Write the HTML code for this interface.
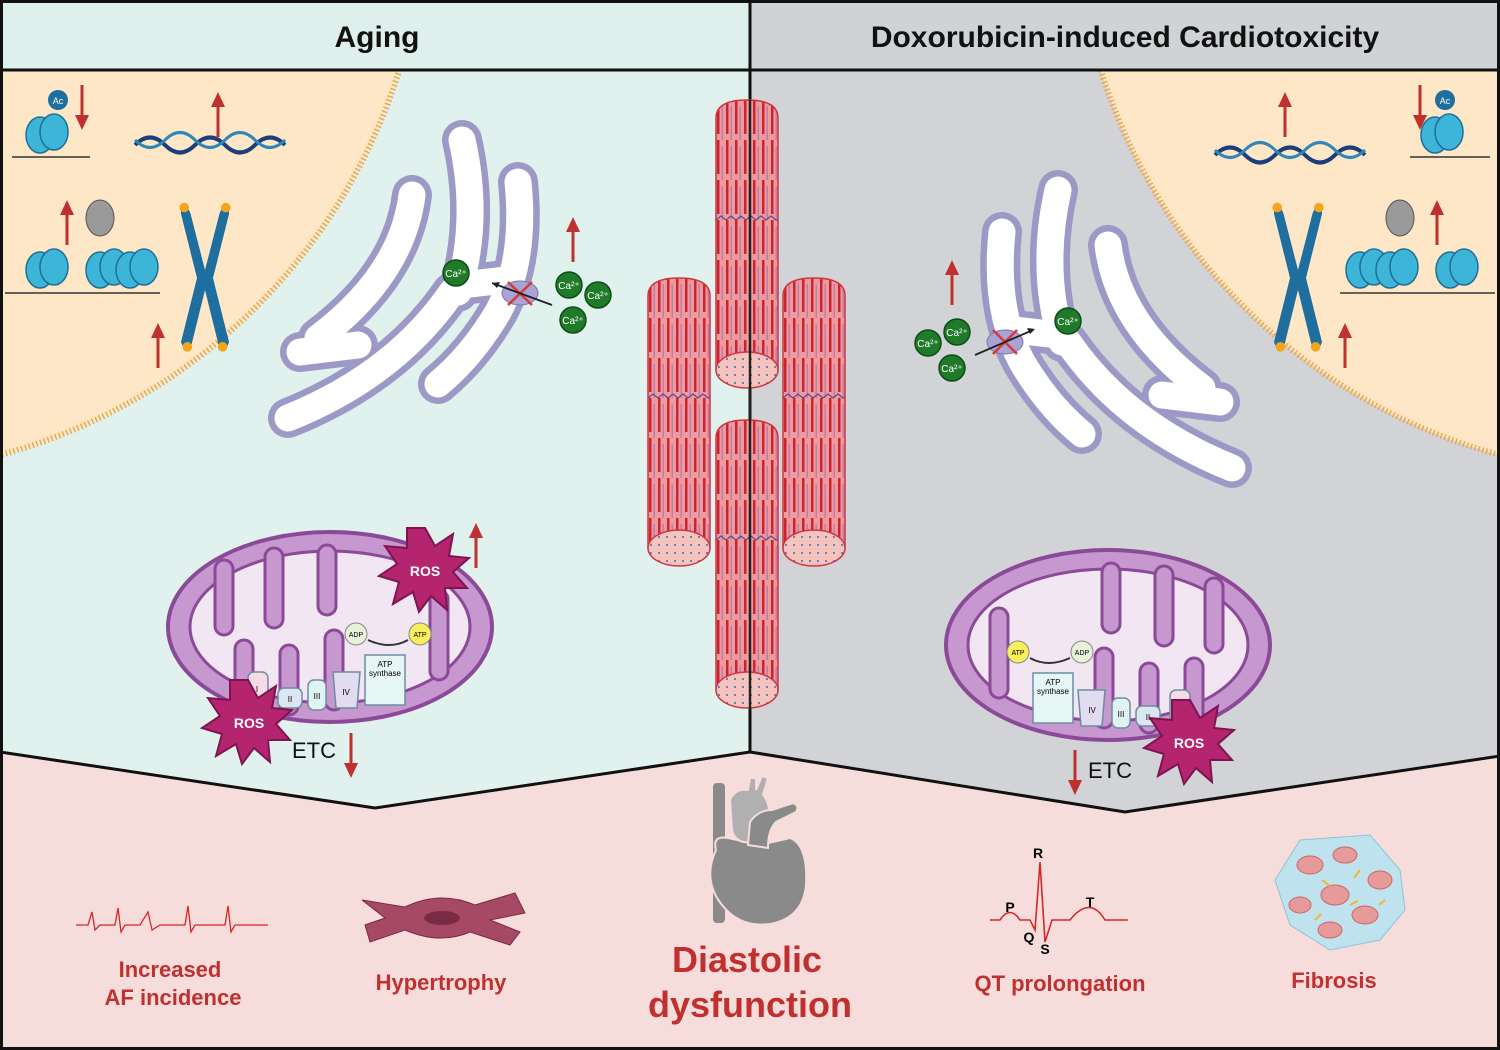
<!DOCTYPE html>
<html><head><meta charset="utf-8"><style>
body{margin:0;width:1500px;height:1050px;overflow:hidden;background:#fff}
svg{display:block}
text{font-family:"Liberation Sans",sans-serif}
</style></head><body>
<svg width="1500" height="1050" viewBox="0 0 1500 1050" xmlns="http://www.w3.org/2000/svg">
<defs>
<pattern id="st" width="9" height="40" patternUnits="userSpaceOnUse">
<rect width="9" height="40" fill="#f19a9e"/>
<rect x="1" width="2.5" height="34" fill="#c9252f"/>
<rect x="5.5" y="6" width="1.5" height="34" fill="#b77fae"/>
</pattern>
<pattern id="dots" width="8" height="8" patternUnits="userSpaceOnUse">
<rect width="8" height="8" fill="#f6c4bf"/><circle cx="3" cy="3" r="1" fill="#3a6fb0"/>
</pattern>
<g id="fib">
<path d="M0 18 Q0 0 31 0 Q62 0 62 18 L62 270 L0 270 Z" fill="url(#st)" stroke="#d0353f" stroke-width="1.5"/>
<path d="M0 120 l5 -4 5 4 5 -4 5 4 5 -4 5 4 5 -4 5 4 5 -4 5 4 5 -4 5 4 2 0" fill="none" stroke="#5b4a90" stroke-width="1.2"/>
<ellipse cx="31" cy="270" rx="31" ry="18" fill="url(#dots)" stroke="#d0353f" stroke-width="1.5"/>
</g>
<g id="er">
<g fill="none" stroke-linecap="round" stroke-linejoin="round">
<g stroke="#9c99c6" stroke-width="40">
<path d="M288 418 Q395 375 452 292"/>
<path d="M462 140 Q480 220 458 292"/>
<path d="M412 195 Q402 275 318 338"/>
<path d="M300 352 L358 345"/>
<path d="M518 182 Q526 260 498 312 Q472 356 438 384"/>
<path d="M462 285 L505 280"/>
</g>
<g stroke="#fff" stroke-width="27">
<path d="M288 418 Q395 375 452 292"/>
<path d="M462 140 Q480 220 458 292"/>
<path d="M412 195 Q402 275 318 338"/>
<path d="M300 352 L358 345"/>
<path d="M518 182 Q526 260 498 312 Q472 356 438 384"/>
<path d="M462 285 L505 280"/>
</g>
</g>
</g>
<g id="mito">
<ellipse cx="330" cy="627" rx="162" ry="95" fill="#c797cf" stroke="#8b4a98" stroke-width="4"/>
<ellipse cx="330" cy="627" rx="140" ry="76" fill="#f2e6f3" stroke="#8b4a98" stroke-width="3"/>
<g fill="#c797cf" stroke="#8b4a98" stroke-width="3">
<rect x="215" y="560" width="18" height="75" rx="9"/>
<rect x="265" y="548" width="18" height="80" rx="9"/>
<rect x="318" y="545" width="18" height="70" rx="9"/>
<rect x="235" y="640" width="18" height="70" rx="9"/>
<rect x="280" y="645" width="18" height="70" rx="9"/>
<rect x="325" y="630" width="18" height="80" rx="9"/>
<rect x="430" y="590" width="18" height="90" rx="9"/>
</g>
<g stroke="#6b8ea0" stroke-width="1.5">
<rect x="248" y="672" width="20" height="36" rx="6" fill="#f7dbe4"/>
<rect x="278" y="688" width="24" height="20" rx="6" fill="#dbe6f0"/>
<rect x="308" y="680" width="18" height="30" rx="6" fill="#e0f3f3"/>
<path d="M333 672 L360 672 L357 708 L336 708 Z" fill="#e1dcef"/>
<path d="M365 655 L405 655 L405 705 L365 705 Z" fill="#e6f6f4"/>
</g>
<circle cx="356" cy="634" r="11" fill="#e8f2d8" stroke="#888"/>
<circle cx="420" cy="634" r="11" fill="#f8f05a" stroke="#888"/>
<path d="M368 640 Q390 650 408 640" fill="none" stroke="#333" stroke-width="2"/>
</g>
<path id="ros" d="M0 -40 L10 -22 28 -34 24 -12 44 -10 28 4 42 20 20 20 22 42 6 28 -6 44 -12 24 -32 36 -26 14 -46 8 -28 -4 -40 -22 -18 -20 -18 -40 Z" fill="#b5246f" stroke="#7d1550" stroke-width="2"/>
<g id="ca"><circle r="13" fill="#1f7a2a" stroke="#0d4d15" stroke-width="1.5"/><text y="4" text-anchor="middle" font-size="10" fill="#fff">Ca²⁺</text></g>
<g id="up"><line x1="0" y1="0" x2="0" y2="-35" stroke="#c0302f" stroke-width="3"/><path d="M-7 -30 L0 -45 L7 -30Z" fill="#c0302f"/></g>
<g id="chr" fill="#1e6e9f">
<path d="M-30 -90 Q-22 -92 -18 -80 L0 -10 L18 -80 Q22 -92 30 -90 L30 -80 L10 0 L30 80 Q26 92 18 88 L0 15 L-18 88 Q-26 92 -30 80 L-10 0 L-30 -80Z"/>
<circle cx="-26" cy="-88" r="6" fill="#f3a51b"/><circle cx="26" cy="-88" r="6" fill="#f3a51b"/>
<circle cx="-22" cy="86" r="6" fill="#f3a51b"/><circle cx="22" cy="86" r="6" fill="#f3a51b"/>
</g>
<g id="nuc" fill="#3cb5d8" stroke="#1f6f96" stroke-width="1.5">
<ellipse cx="0" cy="0" rx="14" ry="18"/><ellipse cx="14" cy="-3" rx="14" ry="18"/>
</g>
</defs>

<rect x="0" y="0" width="750" height="1050" fill="#e0f1ee"/>
<rect x="750" y="0" width="750" height="1050" fill="#d1d3d6"/>
<circle cx="-150" cy="-100" r="575" fill="#fde7c6" stroke="#f3a541" stroke-width="6" stroke-dasharray="1.5 2.5"/>
<circle cx="1650" cy="-100" r="575" fill="#fde7c6" stroke="#f3a541" stroke-width="6" stroke-dasharray="1.5 2.5"/>
<rect x="0" y="0" width="750" height="70" fill="#dff0ec"/>
<rect x="750" y="0" width="750" height="70" fill="#d0d3d6"/>
<line x1="0" y1="70" x2="1500" y2="70" stroke="#111" stroke-width="3"/>
<line x1="750" y1="0" x2="750" y2="755" stroke="#111" stroke-width="3"/>
<text x="377" y="47" text-anchor="middle" font-size="30" font-weight="bold" fill="#111">Aging</text>
<text x="1125" y="47" text-anchor="middle" font-size="30" font-weight="bold" fill="#111">Doxorubicin-induced Cardiotoxicity</text>

<path d="M0 752 L375 808 L750 752 L1125 812 L1500 756 L1500 1050 L0 1050Z" fill="#f7dcdc" stroke="#111" stroke-width="3"/>

<g transform="translate(40,135)"><use href="#nuc"/></g>
<line x1="12" y1="157" x2="90" y2="157" stroke="#333" stroke-width="1.5"/>
<circle cx="58" cy="100" r="10" fill="#1e6e9f"/><text x="58" y="104" font-size="9" text-anchor="middle" fill="#fff">Ac</text>
<g transform="translate(82,85) rotate(180)"><use href="#up"/></g>
<path d="M135 145 q15 -15 30 0 t30 0 t30 0 t30 0 t30 0" fill="none" stroke="#1d3e7a" stroke-width="4"/>
<path d="M135 140 q15 15 30 0 t30 0 t30 0 t30 0 t30 0" fill="none" stroke="#2f86b8" stroke-width="3"/>
<use href="#up" transform="translate(218,137)"/>
<g transform="translate(40,270)"><use href="#nuc"/></g>
<g transform="translate(100,270)"><use href="#nuc"/></g>
<g transform="translate(130,270)"><use href="#nuc"/></g>
<ellipse cx="100" cy="218" rx="14" ry="18" fill="#9a9a9a" stroke="#555"/>
<path d="M5 293 L160 293" stroke="#333" stroke-width="1.5" fill="none"/>
<use href="#up" transform="translate(67,245)"/>
<use href="#chr" transform="translate(205,278) scale(0.8)"/>
<use href="#up" transform="translate(158,368)"/>
<g transform="translate(1435,135)"><use href="#nuc"/></g>
<line x1="1410" y1="157" x2="1490" y2="157" stroke="#333" stroke-width="1.5"/>
<circle cx="1445" cy="100" r="10" fill="#1e6e9f"/><text x="1445" y="104" font-size="9" text-anchor="middle" fill="#fff">Ac</text>
<g transform="translate(1420,85) rotate(180)"><use href="#up"/></g>
<path d="M1215 155 q15 -15 30 0 t30 0 t30 0 t30 0 t30 0" fill="none" stroke="#1d3e7a" stroke-width="4"/>
<path d="M1215 150 q15 15 30 0 t30 0 t30 0 t30 0 t30 0" fill="none" stroke="#2f86b8" stroke-width="3"/>
<use href="#up" transform="translate(1285,137)"/>
<g transform="translate(1360,270)"><use href="#nuc"/></g>
<g transform="translate(1390,270)"><use href="#nuc"/></g>
<g transform="translate(1450,270)"><use href="#nuc"/></g>
<ellipse cx="1400" cy="218" rx="14" ry="18" fill="#9a9a9a" stroke="#555"/>
<path d="M1340 293 L1495 293" stroke="#333" stroke-width="1.5"/>
<use href="#up" transform="translate(1437,245)"/>
<use href="#chr" transform="translate(1298,278) scale(0.8)"/>
<use href="#up" transform="translate(1345,368)"/>

<use href="#er"/>
<use href="#er" transform="translate(1520,50) scale(-1,1)"/>
<ellipse cx="520" cy="293" rx="18" ry="12" fill="#a9a3d6" stroke="#7a74b0"/>
<path d="M508 282 L532 305 M532 282 L508 305" stroke="#d83a3a" stroke-width="2.5"/>
<path d="M552 305 L492 283" stroke="#222" stroke-width="1.8"/><path d="M492 283 l8 -1 -3 6z" fill="#222"/>
<use href="#ca" transform="translate(456,273)"/>
<use href="#ca" transform="translate(569,285)"/>
<use href="#ca" transform="translate(598,295)"/>
<use href="#ca" transform="translate(573,320)"/>
<use href="#up" transform="translate(573,262)"/>
<ellipse cx="1005" cy="342" rx="18" ry="12" fill="#a9a3d6" stroke="#7a74b0"/>
<path d="M993 330 L1017 354 M1017 330 L993 354" stroke="#d83a3a" stroke-width="2.5"/>
<path d="M975 355 L1033 330" stroke="#222" stroke-width="1.8"/><path d="M1035 329 l-8 -1 3 6z" fill="#222"/>
<use href="#ca" transform="translate(1068,321)"/>
<use href="#ca" transform="translate(928,343)"/>
<use href="#ca" transform="translate(957,332)"/>
<use href="#ca" transform="translate(952,368)"/>
<use href="#up" transform="translate(952,305)"/>

<use href="#fib" transform="translate(716,100)"/>
<use href="#fib" transform="translate(648,278)"/>
<use href="#fib" transform="translate(783,278)"/>
<use href="#fib" transform="translate(716,420)"/>
<line x1="750" y1="100" x2="750" y2="710" stroke="#222" stroke-width="2.5"/>

<use href="#mito"/>
<use href="#mito" transform="translate(1438,18) scale(-1,1)"/>
<text x="257" y="692" font-size="8" text-anchor="middle">I</text>
<text x="290" y="702" font-size="8" text-anchor="middle">II</text>
<text x="317" y="699" font-size="8" text-anchor="middle">III</text>
<text x="346" y="695" font-size="8" text-anchor="middle">IV</text>
<text x="385" y="667" font-size="8" text-anchor="middle">ATP</text><text x="385" y="676" font-size="8" text-anchor="middle">synthase</text>
<text x="356" y="637" font-size="7" text-anchor="middle">ADP</text><text x="420" y="637" font-size="7" text-anchor="middle">ATP</text>
<use href="#ros" transform="translate(425,568)"/>
<text x="425" y="576" font-size="14" font-weight="bold" fill="#fff" text-anchor="middle">ROS</text>
<use href="#up" transform="translate(476,568)"/>
<use href="#ros" transform="translate(248,720)"/>
<text x="249" y="728" font-size="14" font-weight="bold" fill="#fff" text-anchor="middle">ROS</text>
<text x="292" y="758" font-size="22" fill="#111">ETC</text>
<g transform="translate(351,733) rotate(180)"><use href="#up"/></g>
<text x="1180" y="712" font-size="8" text-anchor="middle">I</text>
<text x="1148" y="720" font-size="8" text-anchor="middle">II</text>
<text x="1121" y="717" font-size="8" text-anchor="middle">III</text>
<text x="1092" y="713" font-size="8" text-anchor="middle">IV</text>
<text x="1053" y="685" font-size="8" text-anchor="middle">ATP</text><text x="1053" y="694" font-size="8" text-anchor="middle">synthase</text>
<text x="1082" y="655" font-size="7" text-anchor="middle">ADP</text><text x="1018" y="655" font-size="7" text-anchor="middle">ATP</text>
<use href="#ros" transform="translate(1190,740)"/>
<text x="1189" y="748" font-size="14" font-weight="bold" fill="#fff" text-anchor="middle">ROS</text>
<text x="1088" y="778" font-size="22" fill="#111">ETC</text>
<g transform="translate(1075,750) rotate(180)"><use href="#up"/></g>

<path d="M76 925 L88 925 92 912 95 930 100 925 115 925 118 908 121 932 125 925 140 925 148 912 152 930 160 925 185 925 188 906 191 932 195 925 225 925 228 906 231 932 235 925 268 925" fill="none" stroke="#d82626" stroke-width="1.3"/>
<text x="170" y="977" font-size="22" font-weight="bold" fill="#c0302f" text-anchor="middle">Increased</text>
<text x="173" y="1005" font-size="22" font-weight="bold" fill="#c0302f" text-anchor="middle">AF incidence</text>
<path d="M362 900 L405 907 Q440 890 475 905 L515 893 L525 913 L490 920 L520 932 L510 945 L470 932 Q440 945 405 930 L370 942 L365 925 L385 918 Z" fill="#a54964" stroke="#7a2a44"/>
<ellipse cx="442" cy="918" rx="18" ry="7" fill="#7a2a44"/>
<text x="441" y="990" font-size="22" font-weight="bold" fill="#c0302f" text-anchor="middle">Hypertrophy</text>
<g fill="#8a8a8a" stroke="#f7dcdc" stroke-width="2">
<rect x="712" y="782" width="14" height="142" rx="5"/>
<path d="M716 850 Q712 835 728 838 L760 845 L790 838 Q808 845 806 885 Q803 918 770 924 Q740 928 722 905 Q702 880 716 850Z"/>
</g>
<path d="M730 800 Q735 788 748 790 L750 778 L756 778 L756 790 L762 776 L768 778 L763 795 Q772 805 768 825 L755 842 Q735 845 732 830Z" fill="#b0b0b0" stroke="#f7dcdc" stroke-width="2"/>
<path d="M748 845 L750 822 Q758 810 772 810 L793 803 Q800 806 796 812 L776 822 Q768 830 768 848Z" fill="#8a8a8a" stroke="#f7dcdc" stroke-width="2"/>
<text x="747" y="972" font-size="36" font-weight="bold" fill="#c0302f" text-anchor="middle">Diastolic</text>
<text x="750" y="1017" font-size="36" font-weight="bold" fill="#c0302f" text-anchor="middle">dysfunction</text>
<path d="M990 920 L1000 920 Q1010 905 1020 920 L1030 920 L1035 930 L1040 862 L1045 942 L1052 920 L1070 920 Q1090 895 1105 920 L1128 920" fill="none" stroke="#d82626" stroke-width="1.6"/>
<text x="1038" y="858" font-size="14" font-weight="bold" text-anchor="middle">R</text>
<text x="1010" y="912" font-size="14" font-weight="bold" text-anchor="middle">P</text>
<text x="1090" y="907" font-size="14" font-weight="bold" text-anchor="middle">T</text>
<text x="1029" y="942" font-size="14" font-weight="bold" text-anchor="middle">Q</text>
<text x="1045" y="954" font-size="14" font-weight="bold" text-anchor="middle">S</text>
<text x="1060" y="991" font-size="22" font-weight="bold" fill="#c0302f" text-anchor="middle">QT prolongation</text>
<path d="M1300 840 L1370 835 L1400 870 L1405 910 L1380 940 L1330 950 L1290 925 L1275 880Z" fill="#bfe3ee" stroke="#8cc4d8"/>
<g fill="#e79a9a" stroke="#c66">
<ellipse cx="1310" cy="865" rx="13" ry="9"/><ellipse cx="1345" cy="855" rx="12" ry="8"/><ellipse cx="1380" cy="880" rx="12" ry="9"/>
<ellipse cx="1335" cy="895" rx="14" ry="10"/><ellipse cx="1300" cy="905" rx="11" ry="8"/><ellipse cx="1365" cy="915" rx="13" ry="9"/><ellipse cx="1330" cy="930" rx="12" ry="8"/>
</g>
<g stroke="#f3b52b" stroke-width="2"><path d="M1322 880 l8 6 M1360 870 l-6 8 M1350 905 l8 -4 M1315 920 l6 -6 M1385 900 l-6 5"/></g>
<text x="1334" y="988" font-size="22" font-weight="bold" fill="#c0302f" text-anchor="middle">Fibrosis</text>

<rect x="1.5" y="1.5" width="1497" height="1047" fill="none" stroke="#111" stroke-width="3"/>
</svg>
</body></html>
